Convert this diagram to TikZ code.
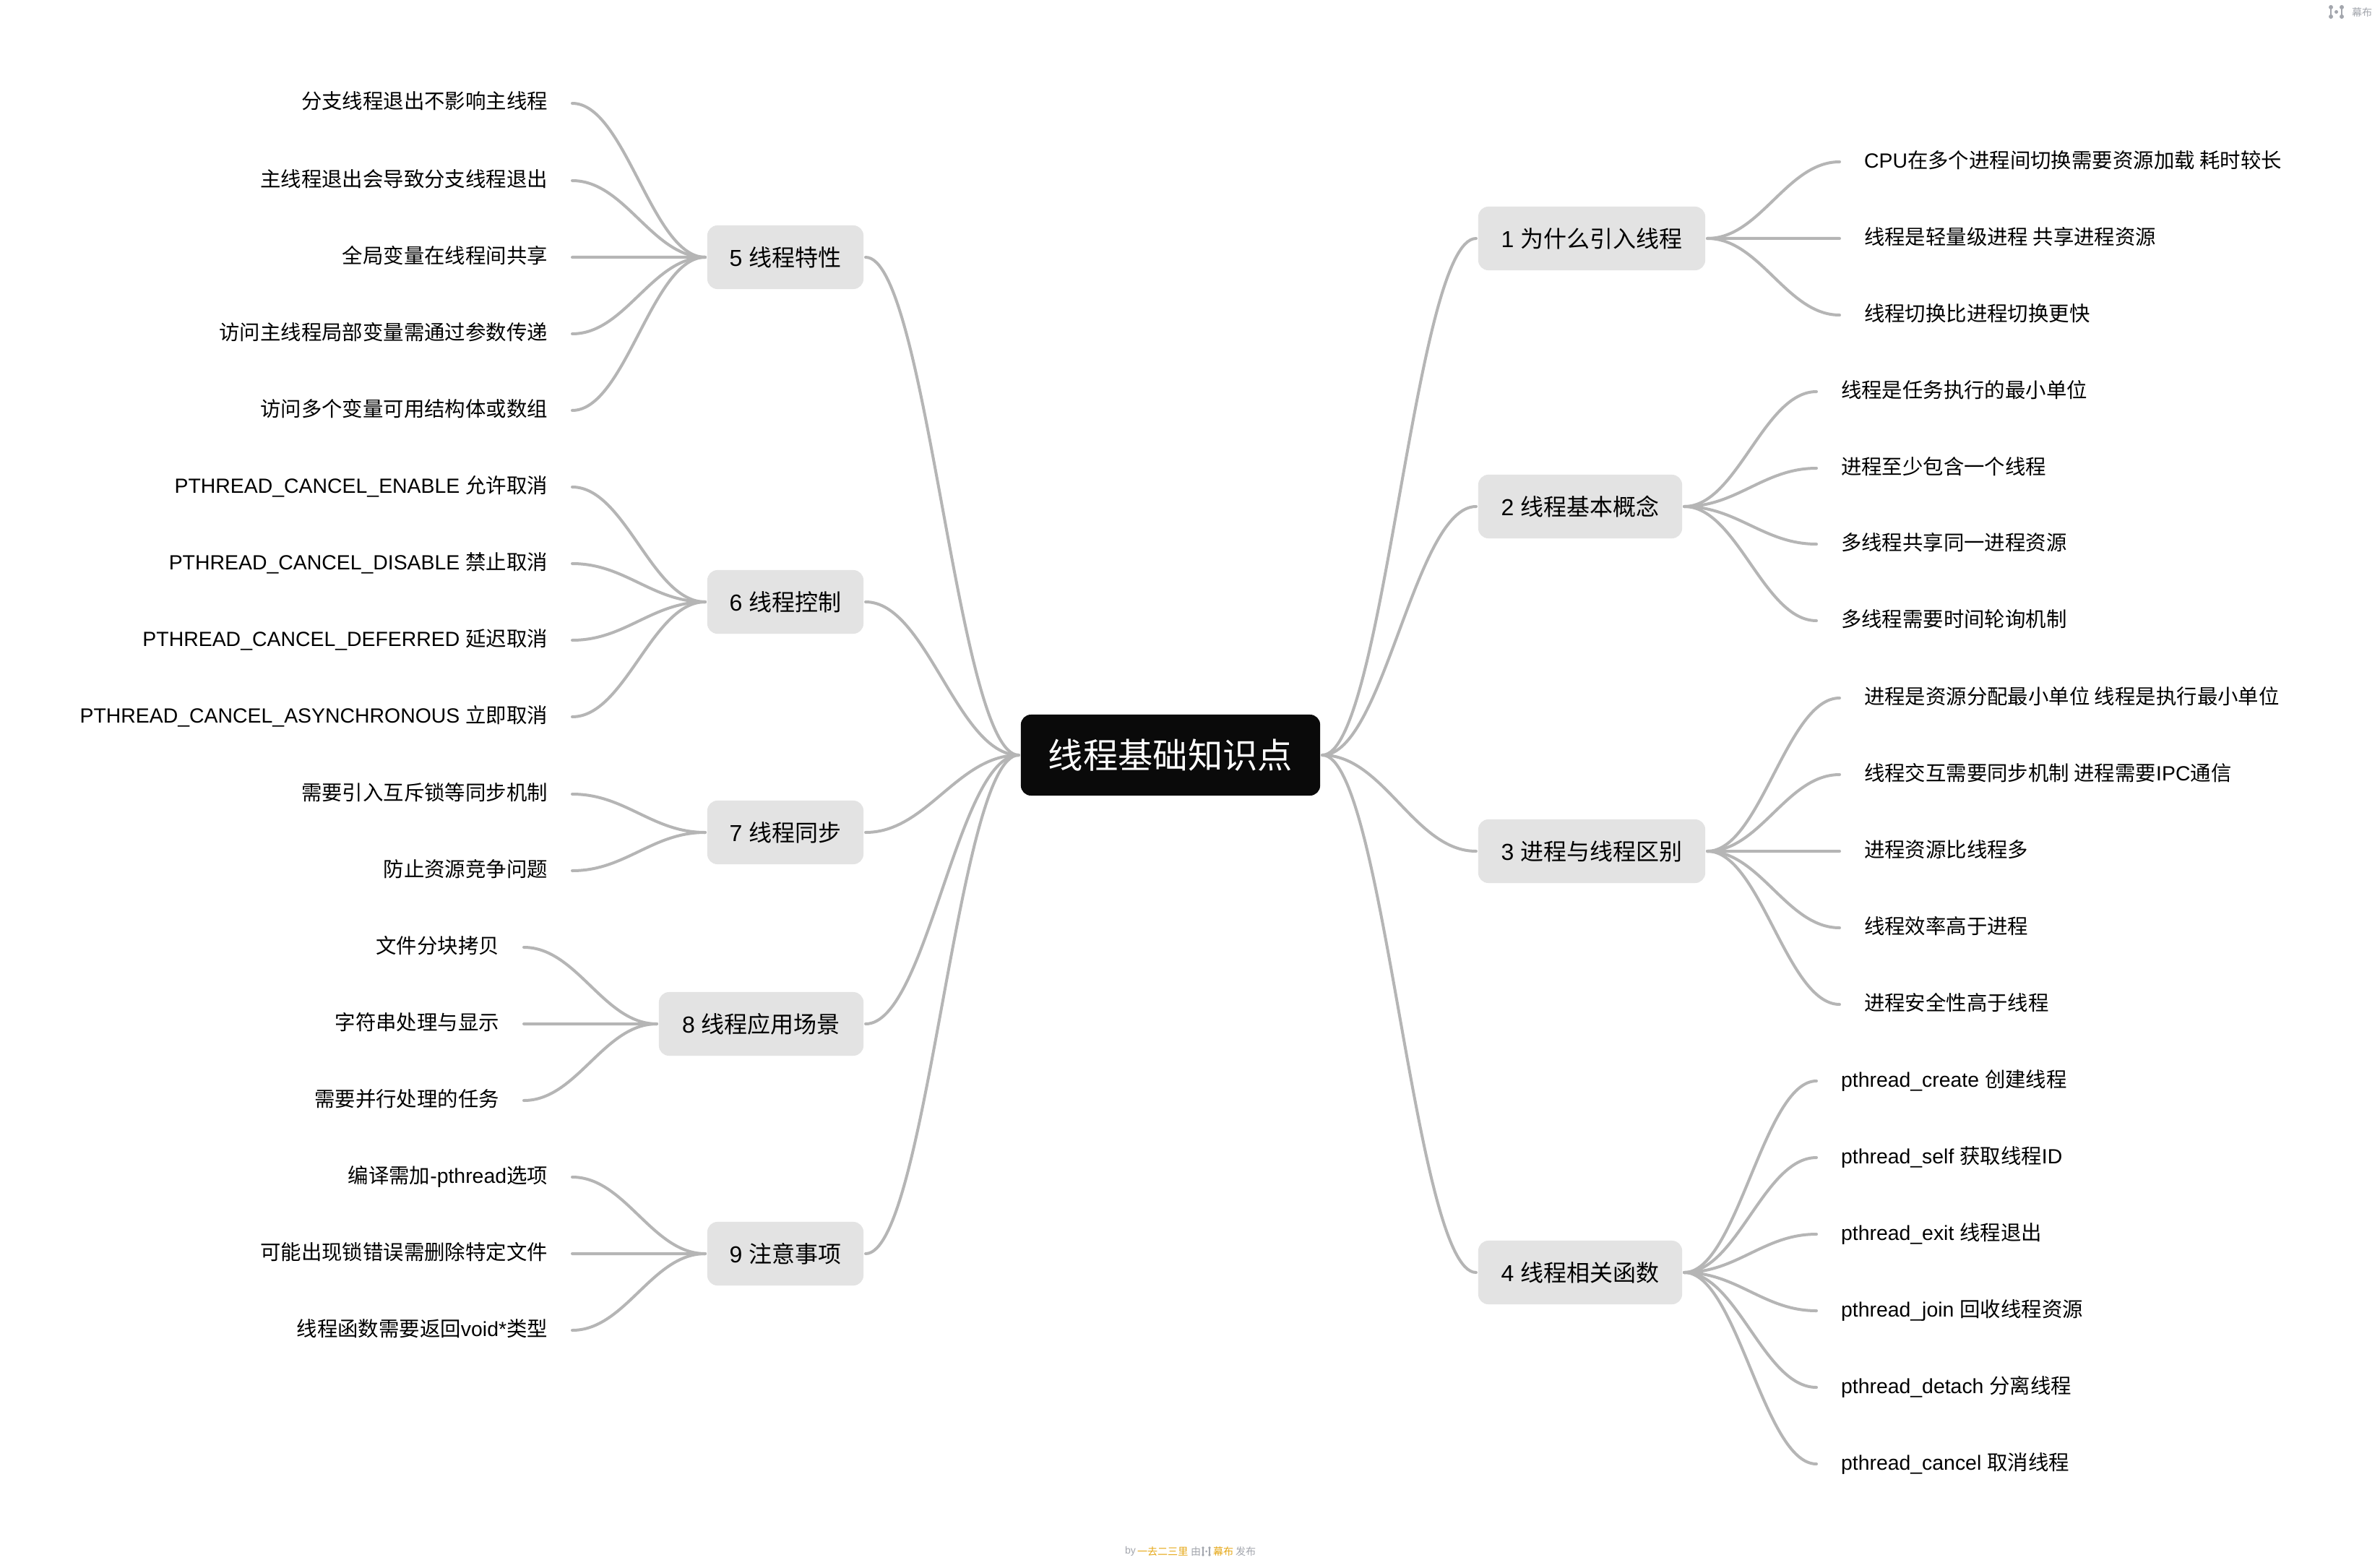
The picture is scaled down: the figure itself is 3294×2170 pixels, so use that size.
\documentclass[tikz,border=0pt]{standalone}
\usepackage{fontspec}
\usetikzlibrary{calc}
\setmainfont{Liberation Sans}
\newfontfamily\cjk{Noto Sans CJK SC}
\newcommand{\Z}[1]{{\cjk #1}}
\definecolor{linkgray}{HTML}{B5B5B5}
\definecolor{branchgray}{HTML}{E3E3E3}
\definecolor{rootblack}{HTML}{0A0A0A}
\definecolor{footgray}{HTML}{A3A6AD}
\definecolor{footorange}{HTML}{E6A817}
\tikzset{
  x=0.01cm,y=-0.01cm,
  rootnode/.style={fill=rootblack,text=white,rounded corners=0.14cm,minimum width=4.14cm,minimum height=1.12cm,inner sep=0pt,outer sep=0.03cm,font=\fontsize{13.75pt}{16pt}\selectfont},
  branchnode/.style={fill=branchgray,text=black,rounded corners=0.14cm,minimum height=0.88cm,inner sep=0pt,outer sep=0.03cm,font=\fontsize{9.1pt}{11pt}\selectfont},
  leafnode/.style={text=black,inner xsep=0.34cm,inner ysep=0pt,outer sep=0pt,text height=0.225cm,text depth=0.065cm,font=\fontsize{8.08pt}{10pt}\selectfont},
  leafl/.style={leafnode,anchor=east},
  leafr/.style={leafnode,anchor=west},
  linkline/.style={draw=linkgray,line width=0.04cm,line cap=round},
  tiny/.style={inner sep=0pt,outer sep=0pt,anchor=west,font=\fontsize{4pt}{5pt}\selectfont},
  iconpart/.style={draw=footgray,fill=footgray}
}
\newcommand{\lnk}[2]{\draw[linkline] (#1) .. controls ($(#1)!0.4!(#2 |- #1)$) and ($(#2)!0.4!(#1 |- #2)$) .. (#2);}
\begin{document}
\begin{tikzpicture}
\useasboundingbox (0,0) rectangle (3294,2170);
\fill[white] (0,0) rectangle (3294,2170);
\node[rootnode] (root) at (1620,1045) {\Z{线程基础知识点}};

\node[branchnode,minimum width=3.14cm] (b1) at (2203,330) {1 \Z{为什么引入线程}};
\node[branchnode,minimum width=2.82cm] (b2) at (2187,701) {2 \Z{线程基本概念}};
\node[branchnode,minimum width=3.14cm] (b3) at (2203,1178) {3 \Z{进程与线程区别}};
\node[branchnode,minimum width=2.82cm] (b4) at (2187,1761) {4 \Z{线程相关函数}};
\node[branchnode,minimum width=2.16cm] (b5) at (1087,356) {5 \Z{线程特性}};
\node[branchnode,minimum width=2.16cm] (b6) at (1087,833) {6 \Z{线程控制}};
\node[branchnode,minimum width=2.16cm] (b7) at (1087,1152) {7 \Z{线程同步}};
\node[branchnode,minimum width=2.83cm] (b8) at (1053.5,1417) {8 \Z{线程应用场景}};
\node[branchnode,minimum width=2.16cm] (b9) at (1087,1735) {9 \Z{注意事项}};

\node[leafr] (r11) at (2546,224) {CPU\Z{在多个进程间切换需要资源加载 耗时较长}};
\node[leafr] (r12) at (2546,330) {\Z{线程是轻量级进程 共享进程资源}};
\node[leafr] (r13) at (2546,436) {\Z{线程切换比进程切换更快}};
\node[leafr] (r21) at (2514,542) {\Z{线程是任务执行的最小单位}};
\node[leafr] (r22) at (2514,648) {\Z{进程至少包含一个线程}};
\node[leafr] (r23) at (2514,753) {\Z{多线程共享同一进程资源}};
\node[leafr] (r24) at (2514,859) {\Z{多线程需要时间轮询机制}};
\node[leafr] (r31) at (2546,966) {\Z{进程是资源分配最小单位 线程是执行最小单位}};
\node[leafr] (r32) at (2546,1072) {\Z{线程交互需要同步机制 进程需要}IPC\Z{通信}};
\node[leafr] (r33) at (2546,1178) {\Z{进程资源比线程多}};
\node[leafr] (r34) at (2546,1284) {\Z{线程效率高于进程}};
\node[leafr] (r35) at (2546,1390) {\Z{进程安全性高于线程}};
\node[leafr] (r41) at (2514,1496) {pthread\_create \Z{创建线程}};
\node[leafr] (r42) at (2514,1602) {pthread\_self \Z{获取线程}ID};
\node[leafr] (r43) at (2514,1708) {pthread\_exit \Z{线程退出}};
\node[leafr] (r44) at (2514,1814) {pthread\_join \Z{回收线程资源}};
\node[leafr] (r45) at (2514,1920) {pthread\_detach \Z{分离线程}};
\node[leafr] (r46) at (2514,2026) {pthread\_cancel \Z{取消线程}};

\node[leafl] (l51) at (792,143) {\Z{分支线程退出不影响主线程}};
\node[leafl] (l52) at (792,250) {\Z{主线程退出会导致分支线程退出}};
\node[leafl] (l53) at (792,356) {\Z{全局变量在线程间共享}};
\node[leafl] (l54) at (792,462) {\Z{访问主线程局部变量需通过参数传递}};
\node[leafl] (l55) at (792,568) {\Z{访问多个变量可用结构体或数组}};
\node[leafl] (l61) at (792,674) {PTHREAD\_CANCEL\_ENABLE \Z{允许取消}};
\node[leafl] (l62) at (792,780) {PTHREAD\_CANCEL\_DISABLE \Z{禁止取消}};
\node[leafl] (l63) at (792,886) {PTHREAD\_CANCEL\_DEFERRED \Z{延迟取消}};
\node[leafl] (l64) at (792,992) {PTHREAD\_CANCEL\_ASYNCHRONOUS \Z{立即取消}};
\node[leafl] (l71) at (792,1099) {\Z{需要引入互斥锁等同步机制}};
\node[leafl] (l72) at (792,1205) {\Z{防止资源竞争问题}};
\node[leafl] (l81) at (725,1311) {\Z{文件分块拷贝}};
\node[leafl] (l82) at (725,1417) {\Z{字符串处理与显示}};
\node[leafl] (l83) at (725,1523) {\Z{需要并行处理的任务}};
\node[leafl] (l91) at (792,1629) {\Z{编译需加}-pthread\Z{选项}};
\node[leafl] (l92) at (792,1735) {\Z{可能出现锁错误需删除特定文件}};
\node[leafl] (l93) at (792,1841) {\Z{线程函数需要返回}void*\Z{类型}};

\foreach \b in {1,2,3,4}{\lnk{root.east}{b\b.west}}
\foreach \b in {5,6,7,8,9}{\lnk{root.west}{b\b.east}}
\foreach \l in {1,2,3}{\lnk{b1.east}{r1\l.west}}
\foreach \l in {1,2,3,4}{\lnk{b2.east}{r2\l.west}}
\foreach \l in {1,2,3,4,5}{\lnk{b3.east}{r3\l.west}}
\foreach \l in {1,2,3,4,5,6}{\lnk{b4.east}{r4\l.west}}
\foreach \l in {1,2,3,4,5}{\lnk{b5.west}{l5\l.east}}
\foreach \l in {1,2,3,4}{\lnk{b6.west}{l6\l.east}}
\foreach \l in {1,2}{\lnk{b7.west}{l7\l.east}}
\foreach \l in {1,2,3}{\lnk{b8.west}{l8\l.east}}
\foreach \l in {1,2,3}{\lnk{b9.west}{l9\l.east}}

% top-right brand mark
\draw[iconpart,line width=0.02cm] (3226,10) -- (3226,23) (3241,10) -- (3241,23);
\fill[footgray] (3226,10) circle (3) (3226,23) circle (3) (3241,10) circle (3) (3241,23) circle (3) (3233.5,16.5) circle (2.5);
\node[tiny,text=footgray] (brand) at (3255,17) {\Z{幕布}};

% footer
\node[tiny,text=footgray] (fby) at (1557,2147) {by};
\node[tiny,text=footorange] (fname) at (1574,2147) {\Z{一去二三里}};
\node[tiny,text=footgray] (fyou) at (1648,2147) {\Z{由}};
\draw[iconpart,line width=0.015cm] (1665,2142) -- (1665,2152) (1674,2142) -- (1674,2152);
\fill[footgray] (1665,2142) circle (1.8) (1665,2152) circle (1.8) (1674,2142) circle (1.8) (1674,2152) circle (1.8) (1669.5,2147) circle (1.5);
\node[tiny,text=footorange] (fmubu) at (1679,2147) {\Z{幕布}};
\node[tiny,text=footgray] (fpub) at (1710,2147) {\Z{发布}};
\end{tikzpicture}
\end{document}
